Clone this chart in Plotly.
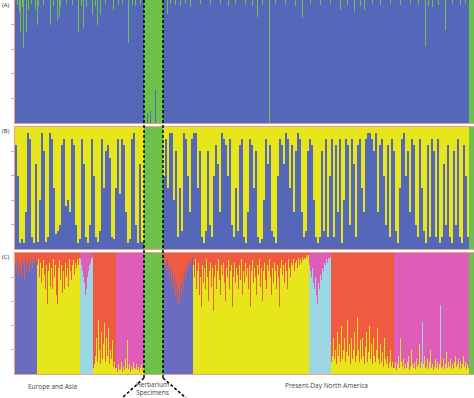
import plotly.graph_objects as go

# ---------------- sample groups (individual counts, left to right) ----------------
N_EUR = 129      # Europe and Asia
N_HERB = 19      # Herbarium specimens
N_NA = 306       # Present-day North America
N_END = 5        # final group on the right
N_ALL = N_EUR + N_HERB + N_NA + N_END

# ---------------- colours ----------------
C_BLUE = "#5567b9"
C_GREEN = "#6dc24b"
C_YELLOW = "#e6e61a"
C_PURPLE = "#6a6cc0"
C_CYAN = "#9bd8e3"
C_RED = "#f05a40"
C_MAGENTA = "#dd5db8"

# ---------------- panel (A): K=2, green admixture spikes on blue ----------------
A_green_idx = [2, 4, 5, 7, 8, 11, 13, 16, 20, 22, 23, 28, 35, 38, 42, 44, 45, 51, 57, 63, 66, 68,
               71, 77, 80, 82, 85, 90, 98, 103, 107, 113, 117, 120, 125,
               152, 155, 160, 165, 170, 175, 185, 195, 205, 213, 220, 230, 237, 242, 247, 254,
               260, 270, 280, 287, 295, 305, 315, 325, 332, 339, 345, 349, 357, 365, 375, 385,
               395, 403, 410, 413, 417, 423, 430, 437, 445, 450]
A_green_val = [0.04, 0.1, 0.26, 0.06, 0.39, 0.26, 0.08, 0.03, 0.07, 0.2, 0.05, 0.04, 0.2, 0.05, 0.16,
               0.14, 0.06, 0.03, 0.04, 0.26, 0.05, 0.23, 0.06, 0.12, 0.05, 0.2, 0.12, 0.03, 0.08,
               0.04, 0.03, 0.35, 0.04, 0.05, 0.03,
               0.11, 0.03, 0.04, 0.05, 0.03, 0.06, 0.03, 0.04, 0.03, 0.05, 0.03, 0.04, 0.05, 0.14,
               0.04, 1.0, 0.03, 0.04, 0.05, 0.15, 0.03, 0.04, 0.03, 0.08, 0.04, 0.1, 0.05, 0.08,
               0.03, 0.04, 0.03, 0.04, 0.03, 0.04, 0.37, 0.05, 0.06, 0.04, 0.24, 0.03, 0.04, 0.03]
A_herb_blue_idx = [132, 135, 140]
A_herb_blue_val = [0.08, 0.1, 0.27]

# ---------------- panel (B): K=3, blue fraction per pair of individuals ----------------
B_eur_blue = [0.85, 0.6, 0.05, 0.08, 0.05, 0.3, 0.95, 0.9, 0.1, 0.05, 0.7, 0.06, 0.4, 0.95, 0.8,
              0.06, 0.1, 0.95, 0.9, 0.5, 0.12, 0.15, 0.2, 0.85, 0.9, 0.35, 0.4, 0.3, 0.9, 0.85,
              0.2, 0.05, 0.08, 0.9, 0.7, 0.1, 0.05, 0.2, 0.9, 0.6, 0.1, 0.06, 0.15, 0.9, 0.5,
              0.8, 0.85, 0.75, 0.1, 0.08, 0.5, 0.9, 0.45, 0.9, 0.85, 0.3, 0.05, 0.08, 0.9, 0.95,
              0.2, 0.05, 0.7, 0.06, 0.05]
B_na_blue = [0.6,
             0.9, 0.5, 0.95, 0.95, 0.4, 0.8, 0.1, 0.5, 0.15, 0.95, 0.9, 0.6, 0.3, 0.9, 0.95,
             0.95, 0.5, 0.8, 0.1, 0.05, 0.15, 0.8, 0.2, 0.1, 0.6, 0.85, 0.7, 0.3, 0.95, 0.9,
             0.85, 0.6, 0.9, 0.2, 0.1, 0.5, 0.15, 0.85, 0.9, 0.1, 0.05, 0.3, 0.9, 0.85, 0.5,
             0.8, 0.1, 0.05, 0.08, 0.4, 0.9, 0.7, 0.85, 0.15, 0.1, 0.05, 0.6, 0.9, 0.85, 0.7,
             0.95, 0.9, 0.5, 0.85, 0.3, 0.8, 0.95, 0.9, 0.3, 0.1, 0.15, 0.8, 0.9, 0.85, 0.4,
             0.1, 0.05,
             0.1, 0.8, 0.15, 0.9, 0.1, 0.6, 0.9, 0.1, 0.85, 0.3, 0.9, 0.05, 0.4, 0.9, 0.85,
             0.2, 0.9, 0.7, 0.1, 0.85, 0.9, 0.5, 0.3, 0.9, 0.95, 0.95, 0.9, 0.8, 0.95, 0.3,
             0.85, 0.9, 0.6, 0.2, 0.85, 0.1, 0.9, 0.8, 0.15, 0.05, 0.5, 0.9, 0.95, 0.6, 0.8,
             0.3, 0.9, 0.85, 0.2, 0.1, 0.9, 0.5, 0.15, 0.05, 0.85, 0.1, 0.9, 0.8, 0.1, 0.9,
             0.05, 0.1, 0.7, 0.2, 0.85, 0.1, 0.05, 0.8, 0.2, 0.9, 0.1, 0.05, 0.85, 0.6, 0.1]

# ---------------- panel (C): K=6, sorted clusters with admixture ----------------
C_eur_purple = [0.1, 0.15, 0.05, 0.2, 0.08, 0.12, 0.18, 0.05, 0.1, 0.22, 0.06, 0.14, 0.08, 0.04,
                0.16, 0.1, 0.06, 0.12, 0.05, 0.09, 0.04, 0.07]
C_eur_yellow = [0.1, 0.05, 0.2, 0.08, 0.25, 0.12, 0.06, 0.18, 0.3, 0.1, 0.42, 0.15, 0.08, 0.28,
                0.12, 0.3, 0.05, 0.2, 0.1, 0.35, 0.42, 0.12, 0.06, 0.22, 0.1, 0.33, 0.15, 0.3,
                0.08, 0.2, 0.12, 0.28, 0.05, 0.15, 0.22, 0.1, 0.06, 0.18, 0.08, 0.12, 0.05, 0.1, 0.04]
C_eur_cyan = [0.05, 0.1, 0.15, 0.2, 0.25, 0.35, 0.3, 0.2, 0.15, 0.1, 0.08, 0.05, 0.03]
C_eur_red = [0.05, 0.08, 0.15, 0.3, 0.1, 0.45, 0.2, 0.08, 0.35, 0.12, 0.25, 0.42, 0.1, 0.3, 0.15,
             0.38, 0.08, 0.2, 0.12, 0.28, 0.06, 0.1, 0.05]
C_eur_magenta = [0.05, 0.02, 0.08, 0.03, 0.04, 0.1, 0.02, 0.06, 0.03, 0.12, 0.05, 0.28, 0.04, 0.08,
                 0.02, 0.06, 0.03, 0.1, 0.05, 0.04, 0.08, 0.03, 0.06, 0.02, 0.05, 0.08, 0.03, 0.06]
C_na_purple = [0.05, 0.1, 0.08, 0.15, 0.05, 0.12, 0.2, 0.1, 0.25, 0.15, 0.3, 0.2, 0.35, 0.25, 0.4,
               0.3, 0.42, 0.25, 0.35, 0.2, 0.3, 0.15, 0.22, 0.1, 0.15, 0.08, 0.12, 0.05, 0.08, 0.04]
C_na_yellow = [0.1, 0.2, 0.05, 0.3, 0.15, 0.08, 0.35, 0.2, 0.45, 0.1, 0.25, 0.12, 0.3, 0.05, 0.2,
               0.4, 0.15, 0.08, 0.28, 0.12, 0.48, 0.2, 0.1, 0.3, 0.15, 0.05, 0.22, 0.35, 0.1, 0.18,
               0.08, 0.25, 0.4, 0.12, 0.2, 0.06, 0.3, 0.15, 0.1, 0.45, 0.2, 0.08, 0.25, 0.12,
               0.18, 0.3, 0.1, 0.22, 0.05, 0.35, 0.15, 0.25, 0.08, 0.2, 0.12, 0.3, 0.1, 0.45, 0.15,
               0.06, 0.25, 0.12, 0.2, 0.35, 0.1, 0.18, 0.05, 0.28, 0.12, 0.4, 0.15, 0.08, 0.22,
               0.3, 0.1, 0.15, 0.05, 0.2, 0.35, 0.12, 0.25, 0.08, 0.15, 0.3, 0.1, 0.2, 0.45, 0.12,
               0.06, 0.18, 0.1, 0.25, 0.08, 0.15, 0.3, 0.05, 0.12, 0.2, 0.08, 0.1, 0.05, 0.15,
               0.08, 0.06, 0.12, 0.04, 0.1, 0.05, 0.08, 0.03, 0.06, 0.04, 0.05, 0.02, 0.03, 0.02]
C_na_cyan = [0.1, 0.15, 0.2, 0.12, 0.25, 0.3, 0.2, 0.35, 0.42, 0.25, 0.3, 0.18, 0.22, 0.12, 0.15,
             0.08, 0.1, 0.05, 0.08, 0.04, 0.05, 0.03]
C_na_red = [0.1, 0.15, 0.3, 0.12, 0.2, 0.08, 0.35, 0.15, 0.25, 0.1,
            0.4, 0.12, 0.2, 0.3, 0.1, 0.18, 0.45, 0.15, 0.25, 0.08,
            0.3, 0.12, 0.2, 0.35, 0.1, 0.15, 0.47, 0.2, 0.1, 0.28,
            0.12, 0.3, 0.15, 0.08, 0.22, 0.35, 0.1, 0.18, 0.4, 0.12,
            0.25, 0.08, 0.3, 0.15, 0.1, 0.2, 0.38, 0.12, 0.08, 0.25,
            0.1, 0.18, 0.06, 0.3, 0.12, 0.08, 0.15, 0.05, 0.1, 0.2,
            0.06, 0.1, 0.05]
C_na_magenta = [0.05, 0.1, 0.03, 0.08, 0.15, 0.05, 0.3, 0.1, 0.06, 0.12,
                0.04, 0.08, 0.05, 0.1, 0.15, 0.03, 0.06, 0.2, 0.08, 0.05,
                0.1, 0.04, 0.12, 0.06, 0.08, 0.25, 0.05, 0.1, 0.03, 0.08,
                0.15, 0.05, 0.06, 0.12, 0.04, 0.1, 0.2, 0.05, 0.08, 0.03,
                0.06, 0.12, 0.05, 0.1, 0.04, 0.08, 0.15, 0.05, 0.06, 0.12,
                0.04, 0.08, 0.18, 0.05, 0.1, 0.06, 0.12, 0.04, 0.08, 0.05,
                0.1, 0.15, 0.06, 0.08, 0.12, 0.04, 0.1, 0.05, 0.08, 0.15,
                0.06, 0.1, 0.04, 0.08, 0.05]
C_cyan_in_magenta_idx = [407, 425]
C_cyan_in_magenta_val = [0.4, 0.42]

# (main cluster, admixing cluster, admixture fraction of each individual)
C_segments = [
    ("purple", "red", C_eur_purple),
    ("yellow", "red", C_eur_yellow),
    ("cyan", "magenta", C_eur_cyan),
    ("red", "yellow", C_eur_red),
    ("magenta", "yellow", C_eur_magenta),
    ("green", None, [0.0] * N_HERB),
    ("purple", "red", C_na_purple),
    ("yellow", "red", C_na_yellow),
    ("cyan", "magenta", C_na_cyan),
    ("red", "yellow", C_na_red),
    ("magenta", "yellow", C_na_magenta),
    ("green", None, [0.0] * N_END),
]
C_order = ["purple", "yellow", "cyan", "green", "red", "magenta"]
C_colors = {"purple": C_PURPLE, "yellow": C_YELLOW, "cyan": C_CYAN, "green": C_GREEN,
            "red": C_RED, "magenta": C_MAGENTA}

# ---------------- build panel values ----------------
idx = list(range(N_ALL))
herb_start = N_EUR
na_start = N_EUR + N_HERB
end_start = na_start + N_NA

# A
a_green = [0.0] * N_ALL
for i in range(herb_start, na_start):
    a_green[i] = 1.0
for i in range(end_start, N_ALL):
    a_green[i] = 1.0
for i, v in zip(A_green_idx, A_green_val):
    a_green[i] = v
for i, v in zip(A_herb_blue_idx, A_herb_blue_val):
    a_green[i] = 1.0 - v
a_blue = [1.0 - g for g in a_green]

# B
b_x, b_w, b_blue = [], [], []
for start0, n, vals in [(0, N_EUR, B_eur_blue), (na_start, N_NA, B_na_blue)]:
    for k, v in enumerate(vals):
        s = start0 + 2 * k
        e = min(s + 2, start0 + n)
        b_x.append((s + e - 1) / 2)
        b_w.append(e - s)
        b_blue.append(v)
b_yellow = [1.0 - v for v in b_blue]
b_green_x = list(range(herb_start, na_start)) + list(range(end_start, N_ALL))

# C
c_vals = {k: [0.0] * N_ALL for k in C_order}
pos = 0
for base, minor, vals in C_segments:
    for j, v in enumerate(vals):
        c_vals[base][pos + j] = 1.0 - v
        if minor:
            c_vals[minor][pos + j] = v
    pos += len(vals)
for i, v in zip(C_cyan_in_magenta_idx, C_cyan_in_magenta_val):
    c_vals["cyan"][i] = v
    c_vals["magenta"][i] -= v

# ---------------- figure ----------------
fig = go.Figure()
bar_kw = dict(marker_line_width=0, hoverinfo="skip")
fig.add_bar(x=idx, y=a_blue, marker_color=C_BLUE, xaxis="x", yaxis="y", width=1, **bar_kw)
fig.add_bar(x=idx, y=a_green, marker_color=C_GREEN, xaxis="x", yaxis="y", width=1, **bar_kw)

fig.add_bar(x=b_x, y=b_blue, width=b_w, marker_color=C_BLUE, xaxis="x2", yaxis="y2", **bar_kw)
fig.add_bar(x=b_x, y=b_yellow, width=b_w, marker_color=C_YELLOW, xaxis="x2", yaxis="y2", **bar_kw)
fig.add_bar(x=b_green_x, y=[1.0] * len(b_green_x), width=1, marker_color=C_GREEN,
            xaxis="x2", yaxis="y2", **bar_kw)

for k in C_order:
    fig.add_bar(x=idx, y=c_vals[k], width=1, marker_color=C_colors[k], xaxis="x3", yaxis="y3", **bar_kw)

H = 398.0
W = 474.0
LINE = "#e9a08c"
xdom = [15 / W, 1.0]
ydoms = [[1 - 123 / H, 1.0], [1 - 249 / H, 1 - 127 / H], [1 - 374 / H, 1 - 253 / H]]
ax_common = dict(showgrid=False, zeroline=False, showticklabels=False, showline=True,
                 linecolor=LINE, linewidth=1, mirror=True, automargin=False)
layout = dict(width=474, height=398, margin=dict(l=0, r=0, t=0, b=0, pad=0, autoexpand=False),
              barmode="stack", bargap=0,
              showlegend=False, plot_bgcolor="white", paper_bgcolor="white")
for n, yd in zip(["", "2", "3"], ydoms):
    layout["xaxis" + n] = dict(domain=xdom, range=[-0.5, N_ALL - 0.5], ticks="",
                               anchor="y" + n, **ax_common)
    layout["yaxis" + n] = dict(domain=yd, range=[0, 1], ticks="outside", ticklen=3, tickcolor=LINE,
                               tickvals=[0.2, 0.4, 0.6, 0.8], anchor="x" + n, **ax_common)
fig.update_layout(**layout)

# panel letters
for lab, ypx in [("(A)", 5), ("(B)", 131), ("(C)", 257)]:
    fig.add_annotation(text=lab, x=0, y=1 - ypx / H, xref="paper", yref="paper", xanchor="left",
                       yanchor="middle", showarrow=False, font=dict(size=6, color="#333", family="Open Sans"))

# group labels
txt_font = dict(size=6.5, color="#444", family="Open Sans")
lbl_kw = dict(xref="paper", yref="paper", xanchor="center", yanchor="middle", showarrow=False, font=txt_font)
fig.add_annotation(text="Europe and Asia", x=53 / W, y=1 - 386 / H, **lbl_kw)
fig.add_annotation(text="Herbarium<br>Specimens", x=152 / W, y=1 - 388.5 / H, **lbl_kw)
fig.add_annotation(text="Present-Day North America", x=326 / W, y=1 - 385 / H, **lbl_kw)

# herbarium dashed guides
dash = dict(color="black", width=1.5, dash="3px,2px")
for xi in [herb_start - 0.5, na_start - 0.5]:
    fig.add_shape(type="line", xref="x", yref="paper", x0=xi, x1=xi, y0=1.0, y1=1 - 378 / H, line=dash)
fig.add_shape(type="line", xref="paper", yref="paper", x0=144 / W, y0=1 - 378 / H, x1=122 / W, y1=0,
              line=dash)
fig.add_shape(type="line", xref="paper", yref="paper", x0=163 / W, y0=1 - 378 / H, x1=186 / W, y1=0,
              line=dash)

fig.write_html("out.html", config={"displayModeBar": False},
               post_script="document.body.style.margin='0';document.body.style.padding='0';")
